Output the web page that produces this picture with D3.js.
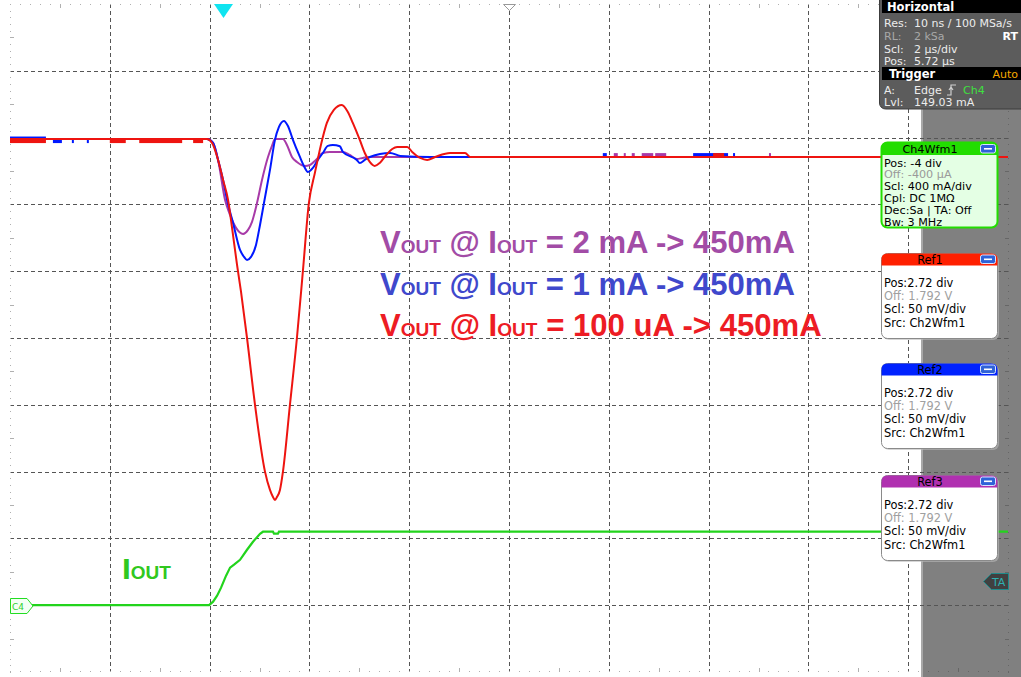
<!DOCTYPE html>
<html>
<head>
<meta charset="utf-8">
<script src="https://cdn.jsdelivr.net/npm/d3@7"></script>
<style>
  html, body { margin: 0; padding: 0; background: #fff; overflow: hidden; }
  svg { display: block; }
</style>
</head>
<body>
<div id="chart"></div>
<script>
// time in µs from the left edge of the screen (2 µs/div), Vout in mV relative to the start level
const redT = [0, 3.95, 4.05, 4.17, 4.27, 4.37, 4.45, 4.55, 4.63, 4.75, 4.91, 5.11, 5.21, 5.27, 5.31, 5.35, 5.41, 5.47, 5.61, 5.75, 5.87, 5.99, 6.11, 6.27, 6.35, 6.49, 6.65, 6.77, 6.87, 7.01, 7.11, 7.21, 7.31, 7.41, 7.54, 7.66, 7.76, 7.96, 8.06, 8.22, 8.36, 8.52, 8.82, 9.12, 9.22, 20];
const redV = [0, 0, -3, -15.7, -30.7, -45.7, -66.6, -94.3, -114.5, -149, -199, -249, -262.7, -268, -270.2, -268, -262.7, -249, -199, -149, -98.8, -47.9, -25.4, 1.5, 12, 21.7, 25.4, 20.2, 12, -0.7, -10.5, -17.2, -20.2, -18, -12, -7.5, -6, -6, -9.7, -14.2, -15.7, -13.5, -10.5, -10.5, -13.5, -13.5];

const blueT = [0, 3.95, 4.07, 4.17, 4.27, 4.35, 4.47, 4.61, 4.69, 4.75, 4.83, 4.93, 5.01, 5.09, 5.21, 5.31, 5.39, 5.49, 5.57, 5.67, 5.81, 5.89, 5.97, 6.07, 6.17, 6.27, 6.37, 6.47, 6.61, 6.67, 6.95, 7.01, 7.11, 7.21, 7.62, 7.82, 8.42, 20];
const blueV = [0, 0, -3, -15.7, -30.7, -45.7, -62.9, -83.1, -88.3, -90.6, -88.3, -79.3, -64.4, -47.9, -23.2, -0.7, 9, 13.5, 9.7, -0.7, -13.5, -20.2, -24.7, -21.7, -15.7, -10.5, -5.2, -4.5, -5.5, -9.7, -15.7, -18, -15.7, -13.5, -10.5, -12.7, -13.5, -13.5];

const purpleT = [0, 3.95, 4.07, 4.17, 4.31, 4.41, 4.53, 4.67, 4.77, 4.85, 4.95, 5.05, 5.17, 5.25, 5.31, 5.47, 5.55, 5.65, 5.75, 5.91, 6.01, 6.13, 6.27, 6.41, 6.67, 6.81, 6.95, 7.07, 7.21, 20];
const purpleV = [0, 0, -3, -15.7, -45.7, -56.9, -66.6, -71.1, -68.1, -62.1, -47.9, -30.7, -13.5, -5.2, 0, 0, -4.5, -13.5, -17.2, -20.2, -19.5, -15.7, -10.5, -9.7, -9.7, -12, -15, -14.2, -13.5, -13.5];

// short sampling glitches seen on the flat parts: [t start, t end, mV low, mV high]
const redGlitches = [[0, 0.72, -2.5, 0], [2.0, 2.32, -2.5, 0], [2.59, 3.45, -2.5, 0], [3.67, 3.87, -2.5, 0], [14.09, 14.31, -13.5, -11.2]];
const blueGlitches = [[0, 0.72, 0, 1.2], [0.86, 1.04, -2.5, 0], [1.24, 1.28, -2.5, 0], [1.54, 1.58, -2.5, 0], [11.88, 11.96, -13.5, -11.2], [13.69, 14.39, -13.5, -11.2], [14.49, 14.53, -13.5, -11.2]];
const purpleGlitches = [[12.10, 12.18, -13.5, -11.2], [12.30, 12.34, -13.5, -11.2], [12.46, 12.52, -13.5, -11.2], [12.66, 12.89, -13.5, -11.2], [12.93, 13.15, -13.5, -11.2], [15.21, 15.25, -13.5, -11.2]];

// Iout in mA (Ch4, 400 mA/div)
const iT = [0, 3.99, 4.07, 4.15, 4.23, 4.33, 4.41, 4.49, 4.61, 4.75, 4.87, 5.01, 5.07, 5.27, 5.29, 5.37, 5.39, 20];
const iMA = [0, 0, 21, 57, 105, 177, 225, 243, 272, 332, 380, 428, 440, 440, 428, 428, 440, 440];

const xDivTicks = d3.range(0, 20.01, 2);
const yDivTicks = d3.range(-5, 5.01, 1);

const hzRows = [["Res:", "10 ns / 100 MSa/s"], ["RL:", "2 kSa"], ["Scl:", "2 µs/div"], ["Pos:", "5.72 µs"]];
const ch4Rows = ["Pos: -4 div", "Off: -400 µA", "Scl: 400 mA/div", "Cpl: DC 1MΩ", "Dec:Sa | TA: Off", "Bw: 3 MHz"];
const refNames = ["Ref1", "Ref2", "Ref3"];
const refRows = ["Pos:2.72 div", "Off: 1.792 V", "Scl: 50 mV/div", "Src: Ch2Wfm1"];

const labels = [
  { sub: "2 mA -> 450mA", color: "#a24ca6" },
  { sub: "1 mA -> 450mA", color: "#3f48cc" },
  { sub: "100 uA -> 450mA", color: "#ed1c24" }
];

const width = 1021, height = 677;
const svg = d3.select("#chart").append("svg")
  .attr("width", width)
  .attr("height", height);

// --- Scales ---
const x = d3.scaleLinear().domain([0, 20]).range([10, 1008]);
const yDiv = d3.scaleLinear().domain([-5, 5]).range([672, 4]);
const mvPerDiv = 50, vDiv = 2.98;   // screen level of the initial Vout
const yV = d3.scaleLinear().domain([(-5 - vDiv) * mvPerDiv, (5 - vDiv) * mvPerDiv]).range([672, 4]);
const maPerDiv = 400, ch4Pos = -4;
const yI = d3.scaleLinear().domain([(-5 - ch4Pos) * maPerDiv, (5 - ch4Pos) * maPerDiv]).range([672, 4]);

// gray side area
svg.append("rect").attr("x", 921).attr("y", 0).attr("width", 100).attr("height", height).attr("fill", "#808080");
svg.append("rect").attr("x", 921).attr("y", 0).attr("width", 2).attr("height", height).attr("fill", "#a8a8a8");

// --- Grid ---
const grid = svg.append("g").attr("shape-rendering", "crispEdges");
grid.selectAll(".vline")
  .data(xDivTicks.slice(1, -1))
  .enter().append("line")
  .attr("x1", d => Math.round(x(d)) + 0.5).attr("x2", d => Math.round(x(d)) + 0.5)
  .attr("y1", yDiv(5)).attr("y2", yDiv(-5))
  .attr("stroke", "#555").attr("stroke-dasharray", "4,3");
grid.selectAll(".hline")
  .data(yDivTicks.slice(1, -1))
  .enter().append("line")
  .attr("y1", d => Math.round(yDiv(d)) + 0.5).attr("y2", d => Math.round(yDiv(d)) + 0.5)
  .attr("x1", x(0)).attr("x2", x(20))
  .attr("stroke", "#555").attr("stroke-dasharray", "4,3");

// minor ticks on the frame
const tMinor = d3.range(0, 20.001, 0.2);
const dMinor = d3.range(-5, 5.001, 0.1);
const tickCol = d => d > 921 ? "#666" : "#b0b0b0";
tMinor.forEach(t => {
  const px = Math.round(x(t));
  const mid = Math.abs((t % 2) - 1) < 0.01;
  grid.append("rect").attr("x", px).attr("y", 4).attr("width", 1).attr("height", mid ? 4 : 1).attr("fill", tickCol(px));
  grid.append("rect").attr("x", px).attr("y", mid ? 668 : 671).attr("width", 1).attr("height", mid ? 4 : 1).attr("fill", tickCol(px));
});
dMinor.forEach(d => {
  const py = Math.round(yDiv(d));
  const mid = Math.abs(Math.abs(d % 1) - 0.5) < 0.01;
  grid.append("rect").attr("x", 10).attr("y", py).attr("width", mid ? 4 : 1).attr("height", 1).attr("fill", "#b0b0b0");
  grid.append("rect").attr("x", mid ? 1005 : 1008).attr("y", py).attr("width", mid ? 4 : 1).attr("height", 1).attr("fill", "#666");
});

// --- Traces ---
const lineV = d3.line().x(d => x(d[0])).y(d => yV(d[1])).curve(d3.curveMonotoneX);
const lineI = d3.line().x(d => x(d[0])).y(d => yI(d[1]));
const traces = [
  { t: purpleT, v: purpleV, g: purpleGlitches, color: "#a83aa8" },
  { t: blueT, v: blueV, g: blueGlitches, color: "#0018ff" },
  { t: redT, v: redV, g: redGlitches, color: "#ee1410" }
];
traces.forEach(s => {
  svg.append("path")
    .datum(s.t.map((t, i) => [t, s.v[i]]))
    .attr("d", lineV)
    .attr("fill", "none")
    .attr("stroke", s.color)
    .attr("stroke-width", 2);
  svg.append("g").selectAll("rect")
    .data(s.g)
    .enter().append("rect")
    .attr("x", d => x(d[0]))
    .attr("width", d => Math.max(1, x(d[1]) - x(d[0])))
    .attr("y", d => yV(d[3]) - 0.8)
    .attr("height", d => yV(d[2]) - yV(d[3]) + 1.6)
    .attr("fill", s.color);
});
svg.append("path")
  .datum(iT.map((t, i) => [t, iMA[i]]))
  .attr("d", lineI)
  .attr("fill", "none")
  .attr("stroke", "#22d41c")
  .attr("stroke-width", 2.2);

// --- Annotations ---
function richLabel(parts, x0, y0, targetW, color, big, small) {
  const t = svg.append("text")
    .attr("fill", color)
    .style("font-family", "Liberation Sans, Arial, sans-serif")
    .style("font-weight", "bold")
    .style("white-space", "pre");
  parts.forEach(p => t.append("tspan").text(p[0]).style("font-size", p[1] ? small + "px" : big + "px"));
  const w = t.node().getComputedTextLength();
  t.attr("transform", `translate(${x0},${y0}) scale(${targetW / w},1)`);
}
const labelY = [253, 295, 336];
const labelW = [415, 415, 442];
labels.forEach((l, i) => {
  richLabel([["V", 0], ["OUT", 1], [" @ I", 0], ["OUT", 1], [" = " + l.sub, 0]], 380, labelY[i], labelW[i], l.color, 31, 19);
});
richLabel([["I", 0], ["OUT", 1]], 122, 579, 49, "#30c81e", 30, 18);

// trigger / position markers
svg.append("path").attr("d", "M214,4 L233,4 L223.5,18 Z").attr("fill", "#10e4f0");
svg.append("path").attr("d", "M503.5,4.5 L515.5,4.5 L509.5,10.5 Z").attr("fill", "#fff").attr("stroke", "#999");

// C4 marker
svg.append("path").attr("d", "M10.5,598.5 H27 L33,606 L27,613.5 H10.5 Z")
  .attr("fill", "#f4fff4").attr("stroke", "#22dd22");
svg.append("text").attr("x", 12).attr("y", 610).attr("fill", "#30d030")
  .style("font-family", "DejaVu Sans").style("font-size", "9px").text("C4");

// TA marker
svg.append("path").attr("d", "M983.5,581.5 L991.5,573.5 H1008.5 V589.5 H991.5 Z")
  .attr("fill", "#404040").attr("stroke", "#1f8a8a");
svg.append("text").attr("x", 992).attr("y", 586).attr("fill", "#2fb0b0")
  .style("font-family", "DejaVu Sans").style("font-size", "11px").text("TA");

// --- Horizontal / Trigger panel ---
const font = "DejaVu Sans";
const hz = svg.append("g").style("font-family", font).style("font-size", "11px");
hz.append("rect").attr("x", 879.5).attr("y", -8).attr("width", 150).attr("height", 117).attr("rx", 6)
  .attr("fill", "#5c5c5c").attr("stroke", "#3c3c3c");
hz.append("rect").attr("x", 882).attr("y", 0).attr("width", 139).attr("height", 13).attr("fill", "#000");
hz.append("text").attr("x", 887).attr("y", 11).attr("fill", "#fff").style("font-weight", "bold").style("font-size", "11.5px").text("Horizontal");
hzRows.forEach((r, i) => {
  const yy = 27 + i * 12.8;
  const col = i === 1 ? "#a8a8a8" : "#ececec";
  hz.append("text").attr("x", 884).attr("y", yy).attr("fill", col).text(r[0]);
  hz.append("text").attr("x", 914).attr("y", yy).attr("fill", col).text(r[1]);
});
hz.append("text").attr("x", 1018).attr("y", 39.8).attr("text-anchor", "end").attr("fill", "#fff").style("font-weight", "bold").text("RT");
hz.append("rect").attr("x", 882).attr("y", 67).attr("width", 139).attr("height", 13).attr("fill", "#000");
hz.append("text").attr("x", 889).attr("y", 78).attr("fill", "#fff").style("font-weight", "bold").style("font-size", "11.5px").text("Trigger");
hz.append("text").attr("x", 1018).attr("y", 78).attr("text-anchor", "end").attr("fill", "#f5a800").text("Auto");
hz.append("text").attr("x", 884).attr("y", 93.5).attr("fill", "#ececec").text("A:");
hz.append("text").attr("x", 914).attr("y", 93.5).attr("fill", "#ececec").text("Edge");
hz.append("path").attr("d", "M947,95 H951 V85 H956 M949,90 L951,87 L953,90").attr("fill", "none").attr("stroke", "#cfcfcf").attr("stroke-width", 1.2);
hz.append("text").attr("x", 963).attr("y", 93.5).attr("fill", "#3fe03f").text("Ch4");
hz.append("text").attr("x", 884).attr("y", 106).attr("fill", "#ececec").text("Lvl:");
hz.append("text").attr("x", 914).attr("y", 106).attr("fill", "#ececec").text("149.03 mA");

// --- Channel / reference boxes ---
function minimizeBtn(g, top) {
  g.append("rect").attr("x", 980.5).attr("y", top + 2).attr("width", 15).attr("height", 8.5).attr("rx", 2)
    .attr("fill", "#2f62d8").attr("stroke", "#d8e4ff");
  g.append("rect").attr("x", 984).attr("y", top + 5.5).attr("width", 8).attr("height", 1.6).attr("fill", "#fff");
}

const ch4 = svg.append("g").style("font-family", font).style("font-size", "11.2px");
ch4.append("rect").attr("x", 881.5).attr("y", 142.5).attr("width", 116).attr("height", 85).attr("rx", 6)
  .attr("fill", "#e4ffe4").attr("stroke", "#22dd00").attr("stroke-width", 2);
ch4.append("path").attr("d", "M881.5,155 V148.5 Q881.5,142.5 887.5,142.5 H991.5 Q997.5,142.5 997.5,148.5 V155 Z").attr("fill", "#22dd00");
ch4.append("text").attr("x", 930).attr("y", 153).attr("text-anchor", "middle").attr("fill", "#000").text("Ch4Wfm1");
minimizeBtn(ch4, 142.5);
ch4Rows.forEach((r, i) => {
  ch4.append("text").attr("x", 884).attr("y", 166.5 + i * 11.8).attr("fill", i === 1 ? "#9a9a9a" : "#000").text(r);
});

const refTops = [253, 363, 475];
const refColors = ["#ff2000", "#0022ff", "#b030b0"];
refNames.forEach((name, k) => {
  const top = refTops[k];
  const g = svg.append("g").style("font-family", font).style("font-size", "11.4px");
  g.append("rect").attr("x", 883).attr("y", top + 2).attr("width", 116).attr("height", 85).attr("rx", 6).attr("fill", "#bbb").attr("opacity", 0.6);
  g.append("rect").attr("x", 881.5).attr("y", top + 0.5).attr("width", 116).attr("height", 85).attr("rx", 6)
    .attr("fill", "#fff").attr("stroke", "#8a8a8a");
  g.append("path").attr("d", `M881.5,${top + 12.5} V${top + 6.5} Q881.5,${top + 0.5} 887.5,${top + 0.5} H991.5 Q997.5,${top + 0.5} 997.5,${top + 6.5} V${top + 12.5} Z`)
    .attr("fill", refColors[k]);
  g.append("text").attr("x", 930).attr("y", top + 10.5).attr("text-anchor", "middle").attr("fill", "#000").text(name);
  minimizeBtn(g, top);
  refRows.forEach((r, i) => {
    g.append("text").attr("x", 884).attr("y", top + 34 + i * 13.2).attr("fill", i === 1 ? "#a0a0a0" : "#000").text(r);
  });
});
</script>
</body>
</html>
